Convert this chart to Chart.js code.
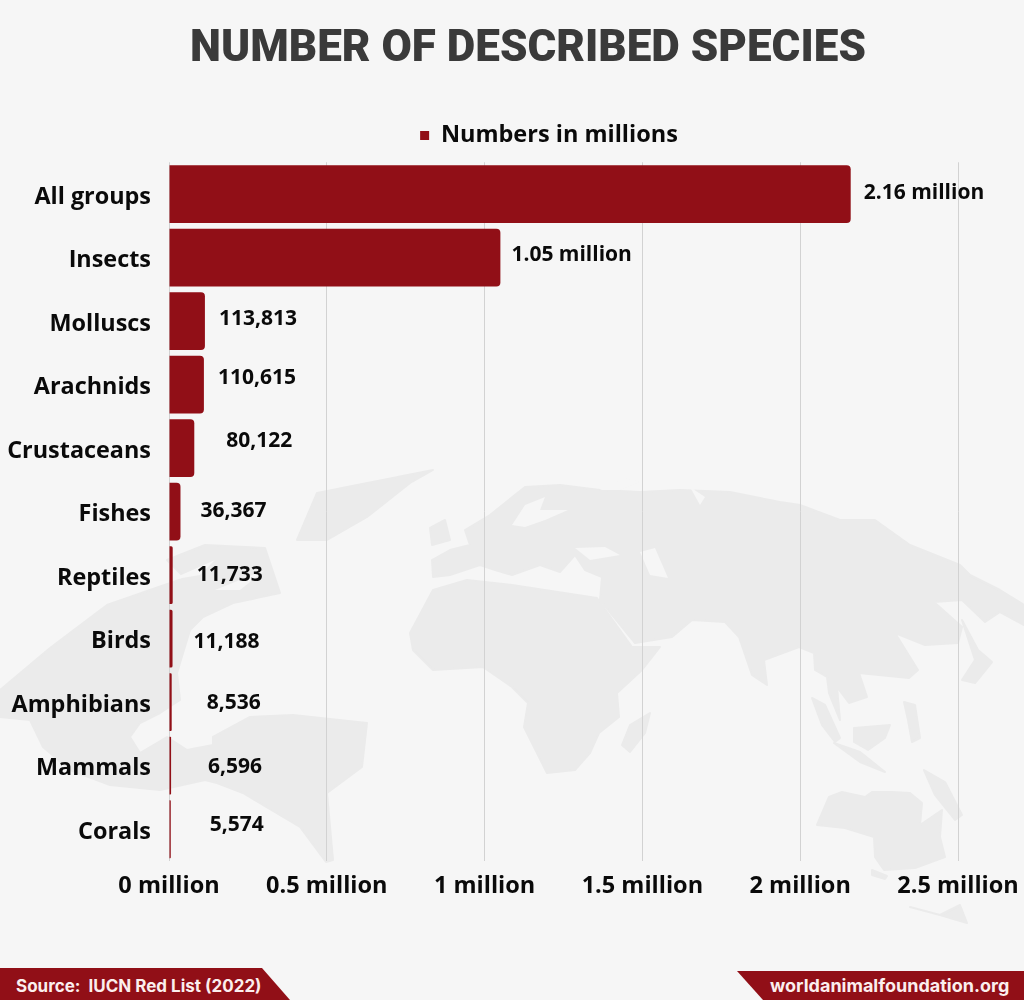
<!DOCTYPE html>
<html>
<head>
<meta charset="utf-8">
<title>Number of described species</title>
<script src="https://cdn.jsdelivr.net/npm/chart.js@4/dist/chart.umd.min.js"></script>
<style>
    html, body { margin: 0; padding: 0; background: #f6f6f6; }
    #wrap { position: relative; width: 1024px; height: 1000px; overflow: hidden; }
    #map { position: absolute; left: 0; top: 0; }
    #chart { position: absolute; left: 0; top: 0; }
    .ribbon {
        position: absolute; bottom: 0; color: #fbeeee; background: #910f17;
        font-family: Inter, sans-serif; font-weight: 700; box-sizing: border-box; white-space: pre;
    }
    #source { left: 0; top: 968px; width: 290px; height: 32px; line-height: 36px; padding-left: 16px; font-size: 17px;
        clip-path: polygon(0 0, 262px 0, 290px 32px, 0 32px); }
    #site { left: 737px; top: 971px; width: 287px; height: 29px; line-height: 30px; padding-left: 33px; font-size: 18px;
        clip-path: polygon(0 0, 287px 0, 287px 29px, 26px 29px); }
</style>
</head>
<body>
<div id="wrap">
    <svg id="map" width="1024" height="1000" fill="#ebebeb" stroke="#ebebeb" stroke-width="2" stroke-linejoin="round">
        <!-- backdrop world map, hand traced and rough -->
        <path d="M433 470L410 483L367 517L327 540L297 540L317 493Z"/>
        <path d="M0 690L50 648L107 605L150 590L185 578L167 560L205 545L265 548L280 593L233 603L203 617L190 630L177 673L180 700L160 713L140 723L130 737L140 753L167 737L187 750L213 745L213 737L250 717L293 715L367 723L362 767L327 793L333 860L326 862L300 827L243 793L217 783L205 780L160 790L110 785L70 770L43 747L30 720L0 717Z"/>
        <path d="M433 577L432 560L450 550L470 545L465 530L490 515L525 487L560 485L600 490L640 492L680 490L730 492L780 502L800 505L840 520L875 520L910 545L960 565L970 575L1000 590L1024 605L1024 625L1000 612L985 622L962 600L934 602L962 627L958 643L925 645L895 633L918 670L909 678L859 673L867 697L849 703L837 687L840 720L829 693L827 677L815 670L814 653L799 647L764 660L767 685L752 675L739 637L725 622L692 620L672 637L635 643L600 600L602 577L585 570L575 555L560 572L540 565L512 575L495 570L480 565L450 575Z"/>
        <path d="M410 633L433 590L467 580L512 585L597 598L632 647L660 647L642 670L617 693L619 717L599 733L590 753L575 770L547 773L534 747L524 727L528 703L512 687L483 667L433 670L413 650Z"/>
        <path d="M630 725L650 713L645 733L630 752L622 745Z"/>
        <path d="M854 728L890 725L885 738L868 750L854 742Z"/>
        <path d="M812 698L825 705L840 738L835 742L822 725Z"/>
        <path d="M834 743L860 752L885 772L860 762Z"/>
        <path d="M904 702L915 705L920 738L912 742L908 720Z"/>
        <path d="M924 770L945 782L962 815L955 820L935 795Z"/>
        <path d="M817 825L829 797L842 792L865 797L872 792L892 792L910 793L922 803L920 825L942 810L940 837L945 857L915 868L884 870L875 857L874 837L845 828Z"/>
        <path d="M872 870L887 876L885 879L872 875Z"/>
        <path d="M910 907L940 915L960 905L967 923L940 915Z"/>
        <path d="M962 620L978 650L992 662L975 683L962 680L975 660Z"/>
        <path d="M430 528L445 520L450 540L432 545Z"/>
        <g fill="#f6f6f6" stroke="none">
            <path d="M640 552L655 548L668 578L650 575Z"/>
            <path d="M575 548L605 547L620 555L590 560Z"/>
            <path d="M525 505L545 497L540 510L568 510L545 520L525 527L512 525Z"/>
            <path d="M600 490L625 478L640 482L620 490Z"/>
            <path d="M690 487L705 497L700 505Z"/>
            <path d="M170 580L215 560L200 575Z"/>
            <path d="M215 590L265 570L240 590Z"/>
        </g>
    </svg>
    <canvas id="chart" width="1024" height="1000"></canvas>
    <div id="source" class="ribbon">Source:  IUCN Red List (2022)</div>
    <div id="site" class="ribbon">worldanimalfoundation.org</div>
</div>
<script>
var categories = ['All groups', 'Insects', 'Molluscs', 'Arachnids', 'Crustaceans', 'Fishes', 'Reptiles', 'Birds', 'Amphibians', 'Mammals', 'Corals'];
var speciesCounts = [2160000, 1050000, 113813, 110615, 80122, 36367, 11733, 11188, 8536, 6596, 5574];
var valueLabels = ['2.16 million', '1.05 million', '113,813', '110,615', '80,122', '36,367', '11,733', '11,188', '8,536', '6,596', '5,574'];
var tickLabels = ['0 million', '0.5 million', '1 million', '1.5 million', '2 million', '2.5 million'];

// the labels sit unevenly in the original, so nudge each one
var labelDx = [13, 11, 14, 14, 32, 20, 24, 21, 35, 37, 39];
var labelDy = [-1, -3, -2, -7, -7, -1, 0, 3, 1, 1, -4];

var RED = '#910f17';

var valueLabelPlugin = {
    id: 'valueLabels',
    afterDatasetsDraw: function (chart) {
        var ctx = chart.ctx;
        var bars = chart.getDatasetMeta(0).data;
        ctx.save();
        ctx.font = 'bold 21px "Open Sans"';
        ctx.fillStyle = '#0a0a0a';
        ctx.textAlign = 'left';
        ctx.textBaseline = 'middle';
        bars.forEach(function (bar, i) {
            ctx.fillText(valueLabels[i], bar.x + labelDx[i], bar.y + labelDy[i]);
        });
        ctx.restore();
    }
};

// title and legend are not centred on the page in the original
var shiftPlugin = {
    id: 'shiftHeader',
    afterLayout: function (chart) {
        chart.titleBlock.left += 49;
        chart.titleBlock.right += 49;
        chart.legend.left += 70;
        chart.legend.right += 70;
        chart.legend.top -= 5;
        chart.legend.bottom -= 5;
    }
};

new Chart(document.getElementById('chart'), {
    type: 'bar',
    data: {
        labels: categories,
        datasets: [{
            label: 'Numbers in millions',
            data: speciesCounts,
            backgroundColor: RED,
            borderRadius: 4,
            borderSkipped: 'left',
            barPercentage: 0.91,
            categoryPercentage: 1
        }]
    },
    options: {
        indexAxis: 'y',
        responsive: false,
        animation: false,
        layout: { padding: { left: 0, right: 66, top: 0, bottom: 0 } },
        plugins: {
            title: {
                display: true,
                text: 'NUMBER OF DESCRIBED SPECIES',
                color: '#3a3a3a',
                font: { family: 'Roboto', size: 44, weight: '900' },
                padding: { top: 24, bottom: 37 }
            },
            legend: {
                display: true,
                position: 'top',
                labels: {
                    color: '#0a0a0a',
                    padding: 15,
                    boxWidth: 9,
                    boxHeight: 9,
                    font: { family: 'Open Sans', size: 23.5, weight: 'bold' }
                }
            },
            tooltip: { enabled: false }
        },
        scales: {
            x: {
                min: 0,
                max: 2500000,
                afterFit: function (scale) {
                    scale.height = 139;
                    scale.paddingRight = 66;
                },
                afterBuildTicks: function (scale) {
                    scale.ticks = tickLabels.map(function (t, i) { return { value: i * 500000 }; });
                },
                grid: { color: '#d2d2d2', lineWidth: 1, drawTicks: false },
                border: { display: false },
                ticks: {
                    padding: 11,
                    maxRotation: 0,
                    color: '#0a0a0a',
                    font: { family: 'Open Sans', size: 23.5, weight: 'bold' },
                    callback: function (value, index) { return tickLabels[index]; }
                }
            },
            y: {
                afterFit: function (scale) { scale.width = 169; },
                grid: { display: false },
                border: { display: false },
                ticks: {
                    padding: 10,
                    labelOffset: 3,
                    color: '#0a0a0a',
                    font: { family: 'Open Sans', size: 23.4, weight: 'bold' }
                }
            }
        }
    },
    plugins: [valueLabelPlugin, shiftPlugin]
});
</script>
</body>
</html>
